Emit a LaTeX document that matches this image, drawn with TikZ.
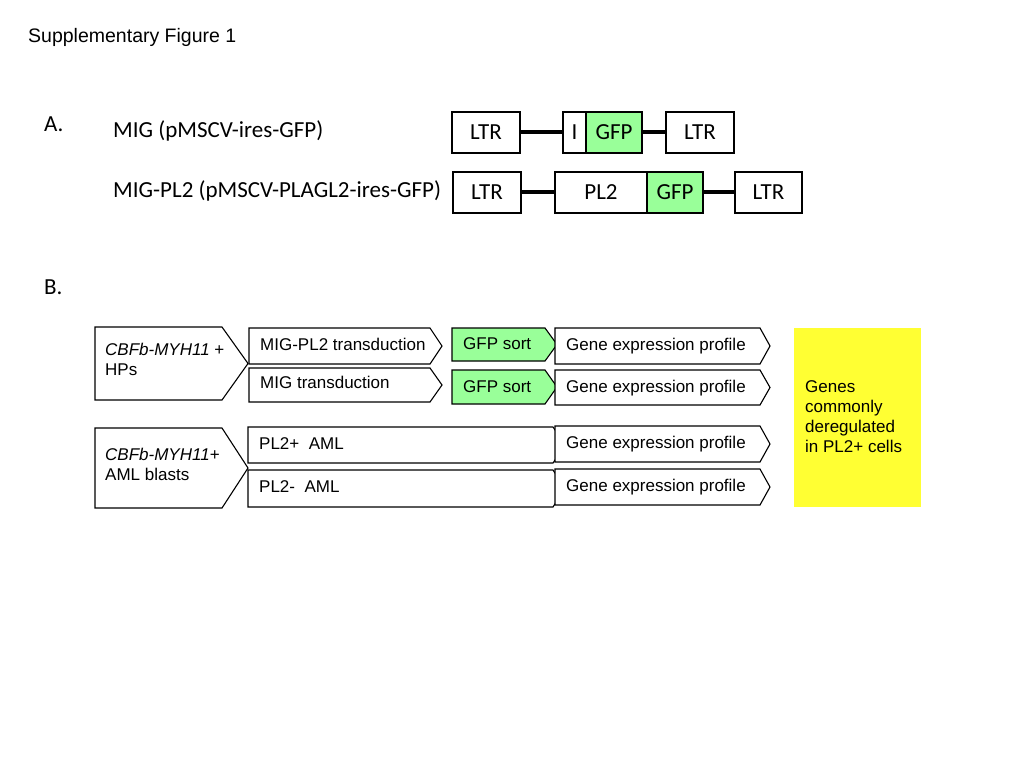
\documentclass[tikz,border=0pt]{standalone}
\usepackage{fontspec}
\setmainfont{Liberation Sans}
\newfontfamily\calfnt{Carlito}
\begin{document}
\begin{tikzpicture}[x=1pt,y=-1pt,
  box/.style={draw,line width=1.1pt,inner sep=0pt},
  link/.style={line width=4pt},
  lab/.style={font=\calfnt\fontsize{23}{26}\selectfont},
  btxt/.style={font=\fontsize{17}{20}\selectfont,anchor=north west,align=left,inner sep=0pt},
  chev/.style={draw,line width=1.1pt,line join=miter}]
\useasboundingbox (0,0) rectangle (1024,768);
\definecolor{gfpg}{HTML}{99FF99}
\definecolor{yel}{HTML}{FFFF33}
\node[anchor=west,font=\fontsize{19.5}{22}\selectfont,inner sep=0pt] (title) at (28,37) {Supplementary Figure 1};
\node[lab,anchor=west,inner sep=0pt] (A) at (44,124) {A.};
\node[lab,anchor=west,inner sep=0pt] (B) at (44,287) {B.};
\node[lab,anchor=west,inner sep=0pt] (mig) at (113,131) {MIG (pMSCV-ires-GFP)};
\node[lab,anchor=west,inner sep=0pt] (migpl2) at (113,191) {MIG-PL2 (pMSCV-PLAGL2-ires-GFP)};
% row 1
\draw[box] (452,112) rectangle (520,153); \node[lab] (l1) at (486,132.5) {LTR};
\draw[box] (563,112) rectangle (586,153); \node[lab] (i1) at (574.5,132.5) {I};
\draw[box,fill=gfpg] (586,112) rectangle (642,153); \node[lab] (g1) at (614,132.5) {GFP};
\draw[box] (666,112) rectangle (734,153); \node[lab] (r1) at (700,132.5) {LTR};
\draw[link] (520,132) -- (563,132);
\draw[link] (642,132) -- (666,132);
% row 2
\draw[box] (453,172) rectangle (521,213); \node[lab] (l2) at (487,192.5) {LTR};
\draw[line width=1.1pt] (623,213) -- (555,213) -- (555,172) -- (647,172);
\draw[line width=1.1pt] (623,213) -- (647,213);
\node[lab] (p2) at (601,192.5) {PL2};
\draw[box,fill=gfpg] (647,172) rectangle (703,213); \node[lab] (g2) at (675,192.5) {GFP};
\draw[box] (735,172) rectangle (802,213); \node[lab] (r2) at (768.5,192.5) {LTR};
\draw[link] (521,192) -- (555,192);
\draw[link] (703,192) -- (735,192);
% chevrons
\newcommand\chv[7]{% x1 y1 x2 y2 depth fill name
  \draw[chev,fill=#6] (#1,#2) -- ({#3-#5},#2) -- (#3,{(#2+#4)/2}) -- ({#3-#5},#4) -- (#1,#4) -- cycle;}
\chv{95}{327}{248}{400}{26}{white}{c1}
\node[btxt] (t1) at (105,343) {\textit{CBFb-MYH11} +\\HPs};
\chv{249}{328}{442}{364}{12}{white}{c2}
\node[btxt] (t2) at (260,338) {MIG-PL2 transduction};
\chv{249}{368}{442}{402}{12}{white}{c3}
\node[btxt] (t3) at (260,376) {MIG transduction};
\chv{452}{328}{557}{361}{12}{gfpg}{c4}
\node[btxt] (t4) at (463,337) {GFP sort};
\chv{452}{370}{557}{404}{12}{gfpg}{c5}
\node[btxt] (t5) at (463,380) {GFP sort};
\chv{555}{328}{770}{364}{10}{white}{c6}
\node[btxt] (t6) at (566,338) {Gene expression profile};
\chv{555}{370}{770}{405}{10}{white}{c7}
\node[btxt] (t7) at (566,380) {Gene expression profile};
\chv{95}{428}{248}{508}{26}{white}{c8}
\node[btxt] (t8) at (105,448) {\textit{CBFb-MYH11+}\\AML blasts};
\chv{248}{427}{565}{463}{12}{white}{c9}
\node[btxt] (t9) at (259,437) {PL2+\ \ AML};
\chv{248}{470}{565}{507}{12}{white}{c10}
\node[btxt] (t10) at (259,480) {PL2-\ \ AML};
\chv{555}{426}{770}{462}{10}{white}{c11}
\node[btxt] (t11) at (566,436) {Gene expression profile};
\chv{555}{469}{770}{505}{10}{white}{c12}
\node[btxt] (t12) at (566,479) {Gene expression profile};
\fill[yel] (794,328) rectangle (921,507);
\node[btxt] (y) at (805,380) {Genes\\commonly\\deregulated\\in PL2+ cells};
\end{tikzpicture}
\end{document}
